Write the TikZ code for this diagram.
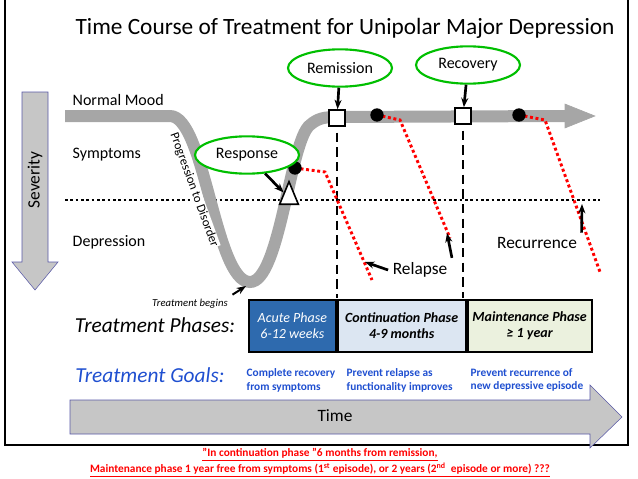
\documentclass[tikz,border=0pt]{standalone}
\usepackage{fontspec}
\setmainfont{Carlito}
\usetikzlibrary{arrows.meta,shapes.geometric}
\definecolor{acute}{HTML}{2E6AAE}
\definecolor{cont}{HTML}{DCE6F2}
\definecolor{maint}{HTML}{EBF1DE}
\definecolor{goal}{HTML}{1F4FD0}
\tikzset{
  bubble/.style={draw=green!75!black, line width=1.6pt, ellipse, fill=white, minimum width=78pt, minimum height=28pt, inner sep=1pt, font=\fontsize{12}{14}\selectfont},
  marker/.style={draw, line width=1.2pt, fill=white, minimum size=12pt, inner sep=0pt},
  dot/.style={circle, fill=black, minimum size=10pt, inner sep=0pt},
  relapse/.style={red, line width=2.2pt, dotted},
  phase/.style={draw, line width=1.5pt, minimum height=39pt, font=\bfseries\itshape\fontsize{10.5}{12}\selectfont, align=center},
  goaltext/.style={goal, font=\bfseries\fontsize{8.5}{10}\selectfont, align=left, anchor=north west},
  callout/.style={-{Stealth[length=7pt]}, line width=2pt},
  level/.style={font=\fontsize{12}{14}\selectfont, anchor=west}
}
\begin{document}
\begin{tikzpicture}[x=0.75pt, y=-0.75pt]
\useasboundingbox (0,0) rectangle (638,478);
\draw[line width=1.5pt] (5,-5) rectangle (628,445);
\node (title) at (345,28) {\fontsize{17.5}{20}\selectfont Time Course of Treatment for Unipolar Major Depression};

% severity axis
\draw[fill=gray!45, draw=gray!70!blue] (22,92) -- (48,92) -- (48,262) -- (58,262) -- (35,290) -- (12,262) -- (22,262) -- cycle;
\node[rotate=90, font=\fontsize{13}{15}\selectfont] (severity) at (35,180) {Severity};
\node[level] (normal) at (68,100) {Normal Mood};
\node[level] (symptoms) at (68,155) {Symptoms};
\node[level] (depression) at (68,242) {Depression};

% threshold and phase borders
\draw[line width=2pt, dotted] (65,200) -- (600,200);
\coordinate (rem) at (337,118);
\coordinate (rec) at (463,116);
\draw[line width=2pt, dash pattern=on 7pt off 4pt] (rem) -- (337,298);
\draw[line width=2pt, dash pattern=on 7pt off 4pt] (rec) -- (463,298);

% mood course
\draw[gray!70, line width=9pt] (65,116) -- (170,116) .. controls (205,116) and (215,282) .. (250,282)
  .. controls (280,282) and (290,140) .. (310,125) .. controls (318,118) and (325,117) .. (337,117) -- (565,116);
\draw[gray!70, fill=gray!70] (565,104) -- (595,116) -- (565,128) -- cycle;
\node[rotate=-70, font=\fontsize{9.5}{11}\selectfont, fill=white, inner sep=0.5pt] (progress) at (194,190) {Progression to Disorder};

% relapse and recurrence paths
\draw[relapse] (295,168) -- (325,172) -- (372,280);
\draw[relapse] (377,115) -- (400,120) -- (450,238);
\draw[relapse] (519,115) -- (545,120) -- (600,272);

\node[marker, isosceles triangle, shape border rotate=90, minimum size=14pt] (resp) at (289,198) {};
\node[marker] (remsq) at (rem) {};
\node[marker] (recsq) at (rec) {};
\node[dot] (d1) at (295,168) {};
\node[dot] (d2) at (377,115) {};
\node[dot] (d3) at (519,115) {};

% callouts
\node[bubble] (response) at (247,155) {Response};
\node[bubble] (remission) at (340,68) {Remission};
\node[bubble] (recovery) at (468,65) {Recovery};
\draw[callout] (response) -- (resp);
\draw[callout] (remission) -- (remsq);
\draw[callout] (recovery) -- (recsq);
\node[font=\fontsize{13}{15}\selectfont] (relapsetxt) at (420,270) {Relapse};
\coordinate (rel1) at (365,262);
\coordinate (rel2) at (447,233);
\draw[callout] (relapsetxt.west) -- (rel1);
\draw[callout] (relapsetxt.north east) -- (rel2);
\node[font=\fontsize{13}{15}\selectfont] (recurrence) at (537,243) {Recurrence};
\coordinate (recur) at (582,204);
\draw[callout] (recurrence.north east) -- (recur);
\node[font=\itshape\fontsize{8}{10}\selectfont] (begins) at (190,304) {Treatment begins};
\coordinate (bottom) at (246,286);
\draw[callout, line width=1.5pt] (begins.north east) -- (bottom);

% phases
\node[font=\itshape\fontsize{16}{18}\selectfont] (phases) at (155,325) {Treatment Phases:};
\node[phase, fill=acute, text=white, minimum width=65pt, anchor=north west] (acute) at (248,299) {\mdseries Acute Phase\\\mdseries 6-12 weeks};
\node[phase, fill=cont, minimum width=96pt, anchor=north west] (continuation) at (acute.north east) {Continuation Phase\\4-9 months};
\node[phase, fill=maint, minimum width=93pt, anchor=north west] (maintenance) at (continuation.north east) {Maintenance Phase\\≥ 1 year};

% goals
\node[goal, font=\itshape\fontsize{16}{18}\selectfont] (goals) at (150,375) {Treatment Goals:};
\node[goaltext] (g1) at (242,364) {Complete recovery\\from symptoms};
\node[goaltext] (g2) at (342,364) {Prevent relapse as\\functionality improves};
\node[goaltext] (g3) at (466,364) {Prevent recurrence of\\new depressive episode};

% time axis
\draw[fill=gray!45, draw=gray!70!blue] (70,400) -- (590,400) -- (590,385) -- (622,417) -- (590,448) -- (590,434) -- (70,434) -- cycle;
\node[font=\fontsize{13}{15}\selectfont] (time) at (335,416) {Time};

% note
\node[red, font=\bfseries\fontsize{8.5}{10}\selectfont] (note1) at (320,455) {\underline{"In continuation phase "6 months from remission,}};
\node[red, font=\bfseries\fontsize{8.5}{10}\selectfont] (note2) at (320,470) {\underline{Maintenance phase 1 year free from symptoms (1\textsuperscript{st} episode), or 2 years (2\textsuperscript{nd}\ \ episode or more) ???}};
\end{tikzpicture}
\end{document}
